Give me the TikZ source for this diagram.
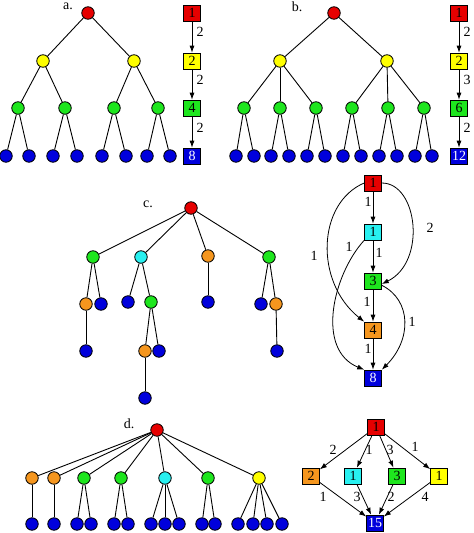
\documentclass[tikz,border=0pt]{standalone}
\usepackage{fontspec}
\setmainfont{Liberation Serif}
\usetikzlibrary{arrows.meta}
\definecolor{nred}{RGB}{230,0,0}
\definecolor{nyel}{RGB}{255,255,0}
\definecolor{ngrn}{RGB}{30,230,30}
\definecolor{nblu}{RGB}{0,0,220}
\definecolor{ncya}{RGB}{40,240,240}
\definecolor{nora}{RGB}{245,150,30}
\newcommand{\fnt}{\fontsize{14}{16}\selectfont}
\begin{document}
\begin{tikzpicture}[x=1pt,y=-1pt,
  dot/.style={circle,draw=black,line width=0.8pt,minimum size=12.5pt,inner sep=0pt},
  sq/.style={rectangle,draw=black,line width=0.6pt,minimum width=17pt,minimum height=16pt,inner sep=0pt,font=\fnt},
  lbl/.style={inner sep=0pt,font=\fnt},
  edge/.style={line width=0.9pt,black},
  arr/.style={-{Latex[length=7pt,width=5pt]},line width=0.8pt,black},
  R/.style={dot,fill=nred}, Y/.style={dot,fill=nyel}, G/.style={dot,fill=ngrn},
  B/.style={dot,fill=nblu}, C/.style={dot,fill=ncya}, O/.style={dot,fill=nora}]
\useasboundingbox (0,0) rectangle (474,533);

% ---------- a ----------
\node[lbl,anchor=base] (la) at (68,9.5) {a.};
\node[R] (a0) at (88,13) {};
\node[Y] (a1) at (43,61) {};
\node[Y] (a2) at (134,61) {};
\node[G] (a11) at (18,108) {};
\node[G] (a12) at (65,108) {};
\node[G] (a21) at (114,108) {};
\node[G] (a22) at (158,108) {};
\foreach \n/\x in {a111/6,a112/29,a121/53,a122/77,a211/102,a212/126,a221/147,a222/170}
  \node[B] (\n) at (\x,156) {};
\foreach \p/\c in {a0/a1,a0/a2,a1/a11,a1/a12,a2/a21,a2/a22,
  a11/a111,a11/a112,a12/a121,a12/a122,a21/a211,a21/a212,a22/a221,a22/a222}
  \draw[edge] (\p) -- (\c);
\node[sq,fill=nred] (as1) at (192,13) {1};
\node[sq,fill=nyel] (as2) at (192,61) {2};
\node[sq,fill=ngrn] (as3) at (192,108) {4};
\node[sq,fill=nblu,text=white] (as4) at (192,156) {8};
\draw[arr] (as1) -- (as2);
\draw[arr] (as2) -- (as3);
\draw[arr] (as3) -- (as4);
\node[lbl] (al1) at (200,32) {2};
\node[lbl] (al2) at (200,80) {2};
\node[lbl] (al3) at (200,128) {2};

% ---------- b ----------
\node[lbl,anchor=base] (lb) at (297,11) {b.};
\node[R] (b0) at (334,13) {};
\node[Y] (b1) at (280,61) {};
\node[Y] (b2) at (387,61) {};
\foreach \n/\x in {b11/244,b12/280,b13/316,b21/352,b22/388,b23/424}
  \node[G] (\n) at (\x,108) {};
\foreach \n/\x in {b111/236,b112/254,b121/271,b122/289,b131/307,b132/325,
  b211/343,b212/361,b221/379,b222/397,b231/415,b232/432}
  \node[B] (\n) at (\x,156) {};
\foreach \p/\c in {b0/b1,b0/b2,b1/b11,b1/b12,b1/b13,b2/b21,b2/b22,b2/b23,
  b11/b111,b11/b112,b12/b121,b12/b122,b13/b131,b13/b132,
  b21/b211,b21/b212,b22/b221,b22/b222,b23/b231,b23/b232}
  \draw[edge] (\p) -- (\c);
\node[sq,fill=nred] (bs1) at (459,13) {1};
\node[sq,fill=nyel] (bs2) at (459,61) {2};
\node[sq,fill=ngrn] (bs3) at (459,108) {6};
\node[sq,fill=nblu,text=white] (bs4) at (459,156) {12};
\draw[arr] (bs1) -- (bs2);
\draw[arr] (bs2) -- (bs3);
\draw[arr] (bs3) -- (bs4);
\node[lbl] (bl1) at (467,32) {2};
\node[lbl] (bl2) at (467,80) {3};
\node[lbl] (bl3) at (467,128) {2};

% ---------- c ----------
\node[lbl,anchor=base] (lc) at (148,207) {c.};
\node[R] (c0) at (191,208) {};
\node[G] (c1) at (93,257) {};
\node[C] (c2) at (141,257) {};
\node[O] (c3) at (208,256) {};
\node[G] (c4) at (269,257) {};
\node[O] (c11) at (86,304) {};
\node[B] (c12) at (101,304) {};
\node[B] (c21) at (128,302) {};
\node[G] (c22) at (151,302) {};
\node[B] (c31) at (208,302) {};
\node[B] (c41) at (261,304) {};
\node[O] (c42) at (276,304) {};
\node[B] (c111) at (86,351) {};
\node[O] (c221) at (145,351) {};
\node[B] (c222) at (159,351) {};
\node[B] (c421) at (277,351) {};
\node[B] (c2211) at (145,398) {};
\foreach \p/\c in {c0/c1,c0/c2,c0/c3,c0/c4,c1/c11,c1/c12,c2/c21,c2/c22,c3/c31,
  c4/c41,c4/c42,c11/c111,c22/c221,c22/c222,c42/c421,c221/c2211}
  \draw[edge] (\p) -- (\c);

\node[sq,fill=nred] (cr) at (373,183) {1};
\node[sq,fill=ncya] (cc) at (373,232) {1};
\node[sq,fill=ngrn] (cg) at (373,281) {3};
\node[sq,fill=nora] (ca) at (373,330) {4};
\node[sq,fill=nblu,text=white] (cb) at (373,378) {8};
\draw[arr] (cr) -- (cc);
\draw[arr] (cc) -- (cg);
\draw[arr] (cg) -- (ca);
\draw[arr] (ca) -- (cb);
\draw[arr] (cr.east) .. controls +(36,0) and +(45,-22) .. ([yshift=-3pt]cg.east);
\draw[arr] (cr.west) .. controls +(-47,20) and +(-50,-40) .. (ca.north west);
\draw[arr] (cc.south west) .. controls +(-31,34) and +(-49,-20) .. (cb.north west);
\draw[arr] ([yshift=4pt]cg.south east) .. controls +(30,15) and +(30,-30) .. (cb.north east);
\node[lbl] (cl1) at (368,202) {1};
\node[lbl] (cl2) at (430,228) {2};
\node[lbl] (cl3) at (314,256) {1};
\node[lbl] (cl4) at (349,247) {1};
\node[lbl] (cl5) at (379,253) {1};
\node[lbl] (cl6) at (367,302) {1};
\node[lbl] (cl7) at (412,322) {1};
\node[lbl] (cl8) at (368,349) {1};

% ---------- d ----------
\node[lbl,anchor=base] (ld) at (129,428) {d.};
\node[R] (d0) at (157,430) {};
\node[O] (d1) at (32,478) {};
\node[O] (d2) at (54,478) {};
\node[G] (d3) at (84,478) {};
\node[G] (d4) at (121,478) {};
\node[C] (d5) at (165,478) {};
\node[G] (d6) at (208,478) {};
\node[Y] (d7) at (259,478) {};
\foreach \n/\x in {e1/32,e2/54,e3/77,e4/91,e5/114,e6/128,e7/151,e8/165,e9/179,
  e10/202,e11/215,e12/238,e13/253,e14/267,e15/282}
  \node[B] (\n) at (\x,524) {};
\foreach \p/\c in {d0/d1,d0/d2,d0/d3,d0/d4,d0/d5,d0/d6,d0/d7,d1/e1,d2/e2,d3/e3,d3/e4,
  d4/e5,d4/e6,d5/e7,d5/e8,d5/e9,d6/e10,d6/e11,d7/e12,d7/e13,d7/e14,d7/e15}
  \draw[edge] (\p) -- (\c);

\node[sq,fill=nred] (dr) at (376,427) {1};
\node[sq,fill=nora] (do) at (311,476) {2};
\node[sq,fill=ncya] (dc) at (353,476) {1};
\node[sq,fill=ngrn] (dg) at (397,476) {3};
\node[sq,fill=nyel] (dy) at (439,476) {1};
\node[sq,fill=nblu,text=white] (db) at (375,523) {15};
\foreach \t in {do,dc,dg,dy} {
  \draw[arr] (dr) -- (\t);
  \draw[arr] (\t) -- (db);
}
\node[lbl] (dl1) at (333,450) {2};
\node[lbl] (dl2) at (369,450) {1};
\node[lbl] (dl3) at (390,450) {3};
\node[lbl] (dl4) at (415,447) {1};
\node[lbl] (dl5) at (323,497) {1};
\node[lbl] (dl6) at (357,497) {3};
\node[lbl] (dl7) at (391,497) {2};
\node[lbl] (dl8) at (425,497) {4};
\end{tikzpicture}
\end{document}
